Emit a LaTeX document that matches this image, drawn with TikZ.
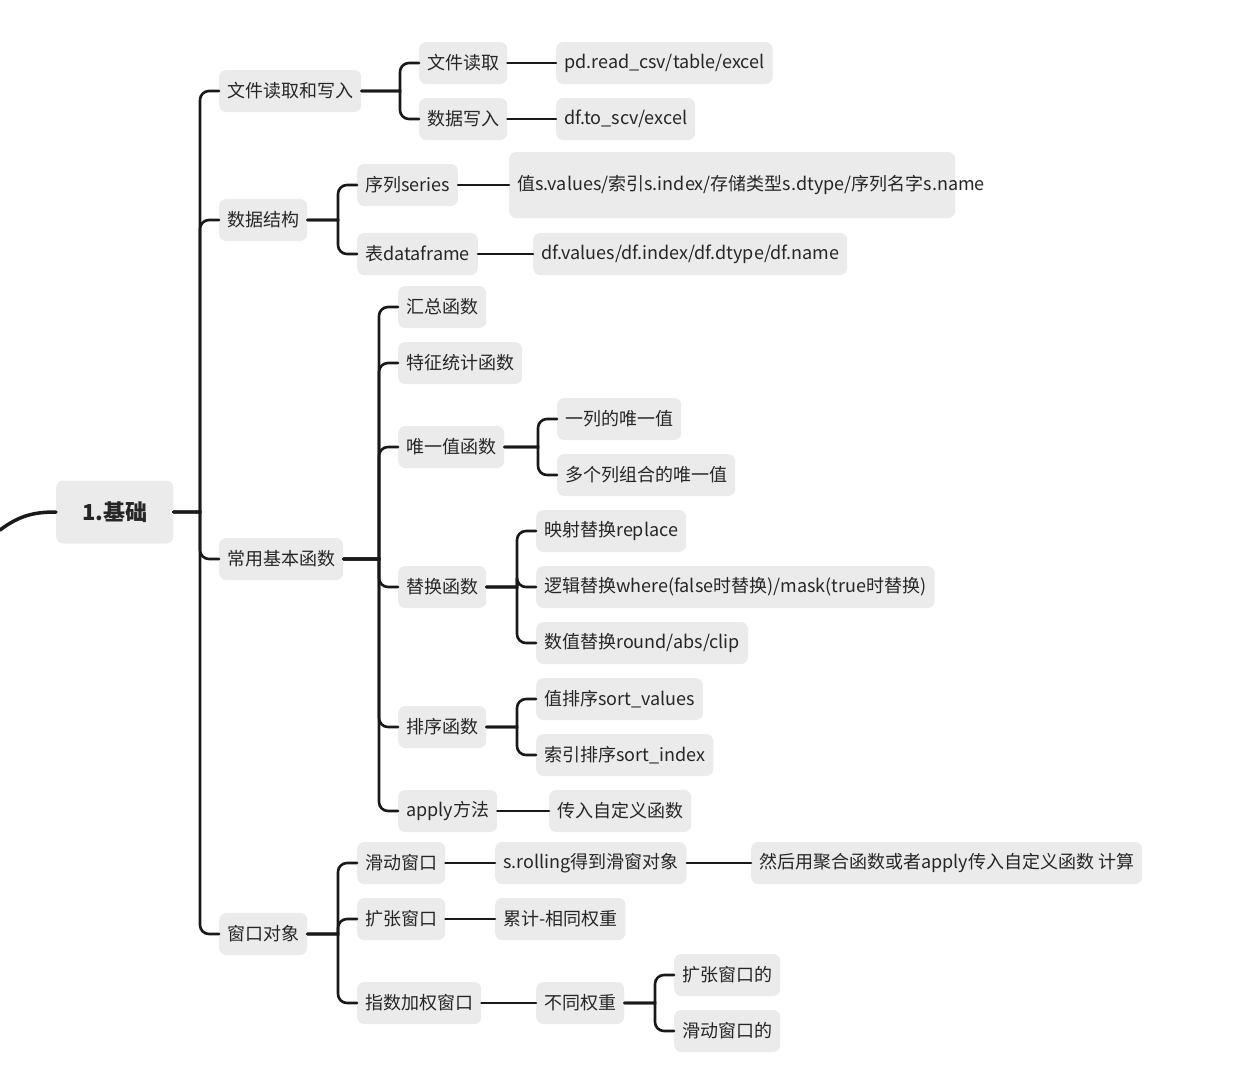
\documentclass[tikz,border=0pt]{standalone}
\usepackage{fontspec}
\setmainfont{Noto Sans CJK SC}
\begin{document}
\begin{tikzpicture}[x=1pt,y=-1pt,
  bx/.style={fill=black!8,rounded corners=7,anchor=west,inner xsep=8,minimum height=42,font=\fontsize{18}{24}\selectfont,text=black!85},
  cn/.style={line width=2.6,black!90,line cap=round}]
\useasboundingbox (0,0) rectangle (1254,1080);
\node[bx,minimum height=63,inner xsep=26,font=\fontsize{22}{26}\selectfont\bfseries] (r) at (56,512) {1.基础};
\draw[cn,line width=3.5] (0,530) .. controls (20,515) and (35,512) .. (r.west);
\node[bx] (a) at (219,91) {文件读取和写入};
\node[bx] (b) at (219,220) {数据结构};
\node[bx] (c) at (219,559) {常用基本函数};
\node[bx] (d) at (219,934) {窗口对象};
\node[bx] (a1) at (419,63) {文件读取};
\node[bx] (a2) at (419,119) {数据写入};
\node[bx] (a11) at (556,63) {pd.read\_csv/table/excel};
\node[bx] (a21) at (556,119) {df.to\_scv/excel};
\node[bx] (b1) at (357,185) {序列series};
\node[bx,text width=430,align=left,font=\fontsize{18}{26}\selectfont,minimum height=66] (b11) at (509,185) {值s.values/索引s.index/存储类型s.dtype/序列名字s.name};
\node[bx] (b2) at (357,254) {表dataframe};
\node[bx] (b21) at (533,254) {df.values/df.index/df.dtype/df.name};
\node[bx] (c1) at (398,307) {汇总函数};
\node[bx] (c2) at (398,363) {特征统计函数};
\node[bx] (c3) at (398,447) {唯一值函数};
\node[bx] (c31) at (557,419) {一列的唯一值};
\node[bx] (c32) at (557,475) {多个列组合的唯一值};
\node[bx] (c4) at (398,587) {替换函数};
\node[bx] (c41) at (536,531) {映射替换replace};
\node[bx] (c42) at (536,587) {逻辑替换where(false时替换)/mask(true时替换)};
\node[bx] (c43) at (536,643) {数值替换round/abs/clip};
\node[bx] (c5) at (398,727) {排序函数};
\node[bx] (c51) at (536,699) {值排序sort\_values};
\node[bx] (c52) at (536,755) {索引排序sort\_index};
\node[bx] (c6) at (398,811) {apply方法};
\node[bx] (c61) at (549,811) {传入自定义函数};
\node[bx] (d1) at (357,863) {滑动窗口};
\node[bx] (d11) at (495,863) {s.rolling得到滑窗对象};
\node[bx] (d111) at (751,863) {然后用聚合函数或者apply传入自定义函数 计算};
\node[bx] (d2) at (357,919) {扩张窗口};
\node[bx] (d21) at (495,919) {累计-相同权重};
\node[bx] (d3) at (357,1003) {指数加权窗口};
\node[bx] (d31) at (536,1003) {不同权重};
\node[bx] (d311) at (674,975) {扩张窗口的};
\node[bx] (d312) at (674,1031) {滑动窗口的};
% tree connectors
\foreach \p/\x/\cs in {r/200/{a,b,c,d}, a/400/{a1,a2}, b/338/{b1,b2}, c/379/{c1,c2,c3,c4,c5,c6}, d/338/{d1,d2,d3}, c3/538/{c31,c32}, c4/517/{c41,c42,c43}, c5/517/{c51,c52}, d31/655/{d311,d312}}{
  \foreach \ch in \cs {
    \draw[cn] (\p.east) -- (\x,0|-\p.east) [rounded corners=9] -- (\x,0|-\ch.west) -- (\ch.west);
  }
}
\foreach \p/\ch in {a1/a11,a2/a21,b1/b11,b2/b21,c6/c61,d1/d11,d11/d111,d2/d21,d3/d31}
  \draw[cn] (\p.east) -- (\ch.west);
\end{tikzpicture}
\end{document}
